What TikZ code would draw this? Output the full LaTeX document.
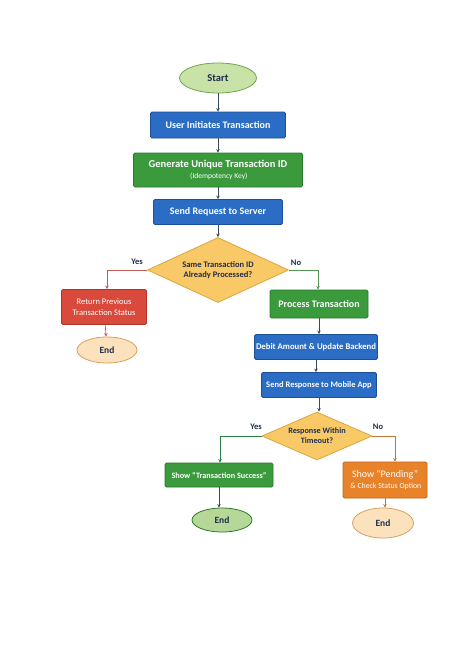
\documentclass[tikz,border=0pt]{standalone}
\usepackage{fontspec}
\setmainfont{Carlito}
\usetikzlibrary{shapes.geometric,arrows.meta}
\definecolor{bluef}{HTML}{2B6CC4}
\definecolor{blued}{HTML}{1D4F96}
\definecolor{greenf}{HTML}{3A9A3C}
\definecolor{greend}{HTML}{2A7A2C}
\definecolor{redf}{HTML}{D94A3C}
\definecolor{redd}{HTML}{B0352A}
\definecolor{orangef}{HTML}{E8832A}
\definecolor{oranged}{HTML}{C0661A}
\definecolor{yellowf}{HTML}{F8C966}
\definecolor{yellowd}{HTML}{D9A640}
\definecolor{startf}{HTML}{C8E2A8}
\definecolor{startd}{HTML}{6FA74A}
\definecolor{peachf}{HTML}{FBE2BC}
\definecolor{peachd}{HTML}{D9A060}
\definecolor{endgf}{HTML}{B5D898}
\definecolor{navy}{HTML}{1F2D4D}
\definecolor{linec}{HTML}{3A4A5E}
\newcommand{\fsz}[2]{\fontsize{#1}{#2}\selectfont}
\begin{document}
\begin{tikzpicture}[x=1pt,y=-1pt,
  boxbase/.style={rectangle, rounded corners=1.5pt, line width=0.8pt, text=white, font=\bfseries\fsz{10}{11.5}, align=center, inner sep=1pt},
  bluebox/.style={boxbase, fill=bluef, draw=blued},
  greenbox/.style={boxbase, fill=greenf, draw=greend},
  redbox/.style={boxbase, fill=redf, draw=redd},
  orangebox/.style={boxbase, fill=orangef, draw=oranged},
  decision/.style={diamond, aspect=2.2, fill=yellowf, draw=yellowd, line width=0.8pt, text=navy, font=\bfseries\fsz{8.5}{10.5}, align=center, inner sep=0pt},
  term/.style={ellipse, line width=0.8pt, text=navy, font=\bfseries\fsz{9.5}{11}, inner sep=0pt},
  conn/.style={line width=0.7pt, -{Stealth[length=3.5pt,width=3.5pt]}},
  lbl/.style={font=\bfseries\fsz{8.5}{10}, text=navy}
]
\useasboundingbox (0,0) rectangle (474,669);
\fill[white] (0,0) rectangle (474,669);

\node[term, fill=startf, draw=startd, minimum width=77pt, minimum height=30pt, font=\bfseries\fsz{10.5}{12}] (start) at (218,78) {Start};
\node[bluebox, minimum width=135pt, minimum height=26pt] (user) at (218,125) {User Initiates Transaction};
\node[greenbox, minimum width=169pt, minimum height=34pt, font=\bfseries\fsz{10.5}{11}] (gen) at (218,170) {Generate Unique Transaction ID\\{\mdseries\fsz{7.5}{9.5} (Idempotency Key)}};
\node[bluebox, minimum width=129pt, minimum height=25pt] (send) at (218,212) {Send Request to Server};
\node[decision, minimum width=141pt, minimum height=65pt] (dec1) at (218,270) {Same Transaction ID\\Already Processed?};

\node[redbox, minimum width=85pt, minimum height=35pt, font=\mdseries\fsz{8.5}{10.5}] (ret) at (104,307) {Return Previous\\Transaction Status};
\node[term, fill=peachf, draw=peachd, minimum width=60pt, minimum height=26pt] (end1) at (107,350) {End};

\node[greenbox, minimum width=98pt, minimum height=28pt] (proc) at (319,304) {Process Transaction};
\node[bluebox, minimum width=123pt, minimum height=25pt, font=\bfseries\fsz{8.7}{10}] (debit) at (316,347) {Debit Amount \& Update Backend};
\node[bluebox, minimum width=115pt, minimum height=25pt, font=\bfseries\fsz{8.5}{10}] (resp) at (319,385) {Send Response to Mobile App};
\node[decision, aspect=2.3, minimum width=110pt, minimum height=48pt, font=\bfseries\fsz{8.2}{10}] (dec2) at (317,436) {Response Within\\Timeout?};

\node[greenbox, minimum width=108pt, minimum height=24pt, font=\bfseries\fsz{8.2}{10}] (succ) at (219,475) {Show “Transaction Success”};
\node[term, fill=endgf, draw=greend, minimum width=60pt, minimum height=24pt] (end2) at (222,520) {End};

\node[orangebox, minimum width=84pt, minimum height=36pt, font=\mdseries\fsz{10}{11}] (pend) at (385,480) {Show “Pending”\\{\fsz{7.8}{10} \& Check Status Option}};
\node[term, fill=peachf, draw=peachd, minimum width=61pt, minimum height=30pt] (end3) at (383,523) {End};

\coordinate (c1) at (107,270);
\coordinate (c2) at (318,270);
\coordinate (c3) at (220,436);
\coordinate (c4) at (395,436);

\draw[conn, draw=linec] (start) -- (user);
\draw[conn, draw=linec] (user) -- (gen);
\draw[conn, draw=linec] (gen) -- (send);
\draw[conn, draw=linec] (send) -- (dec1);
\draw[conn, draw=redd!80] (dec1.west) -- (c1) -- (ret.north -| c1);
\draw[conn, draw=redd!80] (ret) -- (end1);
\draw[conn, draw=greend!80] (dec1.east) -- (c2) -- (proc.north -| c2);
\draw[conn, draw=linec] (proc) -- (proc |- debit.north);
\draw[conn, draw=linec] (debit) -- (debit |- resp.north);
\draw[conn, draw=linec] (resp) -- (resp |- dec2.north);
\draw[conn, draw=linec!70!green] (dec2.west) -- (c3) -- (succ.north -| c3);
\draw[conn, draw=linec] (succ) -- (succ |- end2.north);
\draw[conn, draw=oranged!90] (dec2.east) -- (c4) -- (pend.north -| c4);
\draw[conn, draw=oranged!90] (pend) -- (pend |- end3.north);

\node[lbl] (yes1) at (137,262) {Yes};
\node[lbl] (no1) at (296,263) {No};
\node[lbl] (yes2) at (256,427) {Yes};
\node[lbl] (no2) at (378,427) {No};
\end{tikzpicture}
\end{document}
